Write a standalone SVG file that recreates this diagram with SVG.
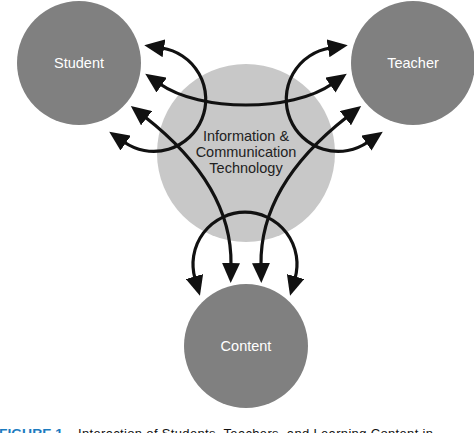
<svg xmlns="http://www.w3.org/2000/svg" width="474" height="433" viewBox="0 0 474 433">
<style>
.node{fill:#808080}
.ict{fill:#c8c8c8}
.lbl{font-family:"Liberation Sans",Arial,sans-serif;font-size:14.5px;text-anchor:middle}
.wl{fill:#ffffff}
.dk{fill:#222222}
.conn path{fill:none;stroke:#111111;stroke-width:3.2;marker-start:url(#ah);marker-end:url(#ah)}
.cap{font-family:"Liberation Sans",Arial,sans-serif;font-size:13px}
</style>
<defs>
<marker id="ah" viewBox="0 0 20 18" refX="2" refY="9" markerWidth="20" markerHeight="18" markerUnits="userSpaceOnUse" orient="auto-start-reverse">
<path d="M0,0 L20,9 L0,18 z" fill="#111111"/>
</marker>
</defs>
<rect width="474" height="433" fill="#ffffff"/>
<g id="ict">
<circle class="ict" cx="246" cy="153" r="89"/>
<text class="lbl dk" x="246" y="141">Information &amp;</text>
<text class="lbl dk" x="246" y="157">Communication</text>
<text class="lbl dk" x="246" y="173">Technology</text>
</g>
<g id="student">
<circle class="node" cx="79" cy="63" r="62"/>
<text class="lbl wl" x="79" y="68">Student</text>
</g>
<g id="teacher">
<circle class="node" cx="413" cy="63" r="62"/>
<text class="lbl wl" x="413" y="68">Teacher</text>
</g>
<g id="content">
<circle class="node" cx="246" cy="346" r="62"/>
<text class="lbl wl" x="246" y="351">Content</text>
</g>
<g id="connectors" class="conn">
<path d="M162,48 A52,52 0 1 1 124,142"/>
<path d="M330,48 A52,52 0 1 0 368,142"/>
<path d="M195,278.5 A52,52 0 1 1 295,278.5"/>
<path d="M160,84 C200,112 292,112 332,84"/>
<path d="M145,117 C200,160 232,210 231,265"/>
<path d="M347,117 C292,160 260,210 261,265"/>
</g>
<g id="caption">
<text class="cap" x="-1" y="438" font-weight="bold" fill="#1b7bbf" textLength="64" lengthAdjust="spacingAndGlyphs">FIGURE 1</text>
<text class="cap" x="78" y="438" fill="#111111" textLength="355" lengthAdjust="spacing">Interaction of Students, Teachers, and Learning Content in</text>
</g>
</svg>
